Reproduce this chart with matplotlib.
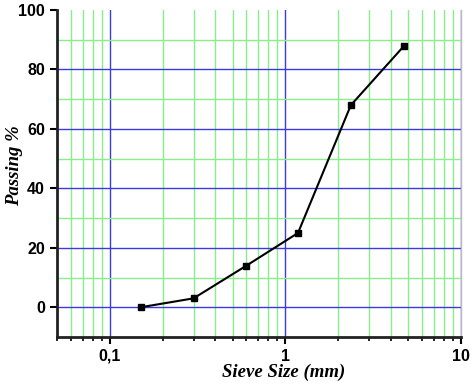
import matplotlib
matplotlib.use("Agg")
import matplotlib.pyplot as plt
from matplotlib.ticker import FixedLocator, LogLocator, NullFormatter

sieve_mm = [0.15, 0.3, 0.6, 1.18, 2.36, 4.75]
passing = [0, 3, 14, 25, 68, 88]
xtick_vals = [0.1, 1, 10]
xtick_labels = ["0,1", "1", "10"]
ytick_vals = [0, 20, 40, 60, 80, 100]
ytick_labels = ["0", "20", "40", "60", "80", "100"]

plt.rcParams["font.family"] = ["Liberation Sans", "DejaVu Sans"]
plt.rcParams["font.weight"] = "bold"

fig = plt.figure(figsize=(4.74, 3.85), dpi=100)
ax = fig.add_axes([0.120, 0.1247, 0.8526, 0.8493])
ax.set_xscale("log")
ax.set_xlim(0.05, 10)
ax.set_ylim(-10, 100)

ax.xaxis.set_minor_locator(LogLocator(base=10, subs=[2, 3, 4, 5, 6, 7, 8, 9]))
ax.xaxis.set_minor_formatter(NullFormatter())
ax.set_xticks(xtick_vals)
ax.set_xticklabels(xtick_labels, fontsize=11.5, fontweight="bold")
ax.set_yticks(ytick_vals)
ax.set_yticklabels(ytick_labels, fontsize=11.5, fontweight="bold")
ax.yaxis.set_minor_locator(FixedLocator([10, 30, 50, 70, 90]))

ax.grid(True, which="major", color="#3a3ae0", lw=1.0)
ax.grid(True, which="minor", color="#8aee8a", lw=1.0)
ax.set_axisbelow(True)
ax.yaxis.get_gridlines()[-1].set_visible(False)

ax.plot(sieve_mm, passing, color="black", lw=1.5, marker="s", ms=5, zorder=3)

for s in ["left", "bottom"]:
    ax.spines[s].set_linewidth(2.0)
    ax.spines[s].set_color("#222222")
ax.spines["top"].set_visible(False)
ax.spines["right"].set_color("#bbbbbb")
ax.spines["right"].set_linewidth(1.0)

ax.tick_params(axis="both", which="major", direction="out", length=5, width=1.5)
ax.tick_params(axis="x", which="minor", direction="out", length=3, width=1.2)
ax.tick_params(axis="y", which="minor", length=0)

ax.set_xlabel("Sieve Size (mm)", fontsize=13.5, fontweight="bold", style="italic",
              family="Liberation Serif")
ax.set_ylabel("Passing %", fontsize=13.5, fontweight="bold", style="italic",
              family="Liberation Serif")
ax.xaxis.set_label_coords(0.56, -0.107)
ax.yaxis.set_label_coords(-0.104, 0.523)
ax.xaxis.label.set_verticalalignment("center")
ax.yaxis.label.set_verticalalignment("center")

fig.savefig("out.png", dpi=100)
